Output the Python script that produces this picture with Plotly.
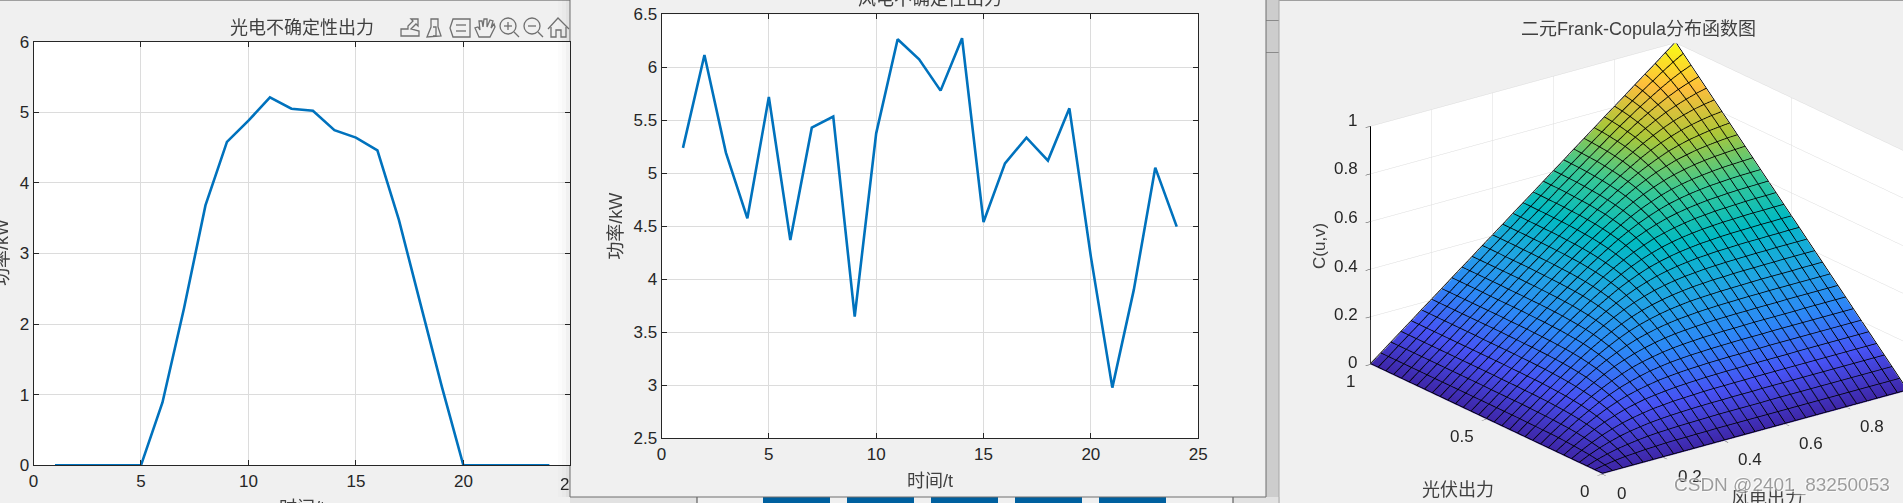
import plotly.graph_objects as go

W, H = 1985, 503  # the page only shows the first 1903 px; the right window runs off it

# left figure: PV output
t_pv = list(range(1, 25))
pv_power = [0, 0, 0, 0, 0, 0.89, 2.22, 3.68, 4.58, 4.88, 5.21, 5.05, 5.02, 4.745, 4.64, 4.46,
            3.475, 2.29, 1.11, 0, 0, 0, 0, 0]

# middle figure: wind output
t_wind = list(range(1, 25))
wind_power = [5.24, 6.116, 5.195, 4.575, 5.72, 4.37, 5.43, 5.535, 3.648, 5.377, 6.264, 6.075,
              5.78, 6.274, 4.54, 5.094, 5.336, 5.12, 5.613, 4.214, 2.978, 3.9, 5.053, 4.497]

# right figure: copula surface, grid of 31 x 31 nodes, read as symmetric (upper triangle, row by row)
grid = [i / 30 for i in range(31)]
z_upper = [
    [0.0] * 31,
    [.008, .015, .020, .023, .026, .028, .030, .031, .031, .032, .032] + [.033] * 19,
    [.027, .037, .044, .050, .055, .058, .060, .062, .063, .064, .065, .066, .066, .066, .066, .066] + [.067] * 13,
    [.051, .063, .072, .079, .085, .089, .092, .094, .096, .097, .098, .098, .099, .099, .099, .100] + [.100] * 12,
    [.078, .091, .101, .109, .116, .120, .124, .126, .128, .130, .131, .131, .132, .132] + [.133] * 13,
    [.107, .121, .132, .141, .147, .152, .156, .159, .161, .163, .164, .165, .165, .166, .166, .166, .166, .166] + [.167] * 8,
    [.138, .152, .163, .172, .180, .185, .189, .192, .194, .196, .197, .198, .198, .199, .199] + [.200] * 10,
    [.169, .183, .195, .205, .212, .218, .222, .225, .227, .229, .230, .231, .232, .232, .232] + [.233] * 9,
    [.201, .216, .228, .237, .245, .251, .255, .258, .261, .262, .264, .264, .265, .266, .266, .266, .266, .266] + [.267] * 5,
    [.233, .248, .260, .270, .278, .284, .288, .291, .294, .296, .297, .298, .298, .299, .299, .299] + [.300] * 6,
    [.266, .281, .293, .303, .311, .317, .321, .325, .327, .329, .330, .331, .332, .332] + [.333] * 7,
    [.299, .314, .326, .336, .344, .350, .355, .358, .360, .362, .363, .364, .365, .366, .366, .366, .366, .367, .367, .367],
    [.332, .347, .359, .369, .377, .383, .388, .391, .394, .395, .397, .398, .398, .399, .399, .400, .400, .400, .400],
    [.365, .380, .393, .403, .411, .417, .421, .425, .427, .429, .430, .431, .432, .432, .433, .433, .433, .433],
    [.398, .413, .426, .436, .444, .450, .455, .458, .461, .462, .464, .465, .465, .466, .466, .467, .467],
    [.431, .447, .459, .469, .477, .483, .488, .491, .494, .496, .497, .498, .499, .499, .500, .500],
    [.465, .480, .493, .503, .511, .517, .522, .525, .528, .529, .531, .532, .532, .533, .533],
    [.498, .514, .526, .536, .544, .551, .555, .559, .561, .563, .565, .566, .566, .567],
    [.532, .547, .560, .570, .578, .584, .589, .592, .595, .597, .598, .599, .600],
    [.565, .581, .594, .604, .612, .618, .623, .626, .629, .631, .632, .633],
    [.599, .615, .628, .638, .646, .652, .657, .661, .663, .665, .667],
    [.633, .649, .662, .672, .681, .687, .692, .695, .698, .700],
    [.668, .683, .697, .707, .716, .722, .727, .731, .733],
    [.702, .719, .732, .743, .751, .758, .763, .767],
    [.738, .754, .768, .779, .788, .795, .800],
    [.774, .791, .805, .817, .826, .833],
    [.812, .829, .844, .857, .867],
    [.851, .870, .886, .900],
    [.894, .915, .933],
    [.942, .967],
    [1.0],
]
z_grid = [[z_upper[min(i, j)][abs(i - j)] for j in range(31)] for i in range(31)]

parula = [[0, "#3E26A8"], [0.125, "#4752F4"], [0.25, "#2D87F7"], [0.375, "#20A5E3"], [0.5, "#02BAC3"],
          [0.625, "#37C897"], [0.75, "#ABC739"], [0.875, "#FEBE3C"], [1, "#F9FB15"]]

TEXT = "#404040"
TICK = "#262626"
FONT = "Liberation Sans, Noto Sans CJK SC"
WIN = "#F0F0F0"
BOX = 1.5675
EYE = 2.5
MESH_LIFT = 0.004  # keeps the mesh lines just in front of the surface


def fx(px):
    return px / W


def fy(py):
    return 1 - py / H


def rect(x0, y0, x1, y1, fill, line=None, layer="below"):
    return dict(type="rect", xref="paper", yref="paper", x0=fx(x0), x1=fx(x1), y0=fy(y1), y1=fy(y0),
                fillcolor=fill, line=dict(color=line or fill, width=1 if line else 0), layer=layer)


def poly(points, closed=False):
    s = "M" + " L".join(f"{fx(x):.5f},{fy(y):.5f}" for x, y in points)
    return dict(type="path", xref="paper", yref="paper", path=s + (" Z" if closed else ""),
                line=dict(color="#707070", width=1.3), layer="above")


def circle(cx, cy, r):
    return dict(type="circle", xref="paper", yref="paper", x0=fx(cx - r), x1=fx(cx + r), y0=fy(cy + r), y1=fy(cy - r),
                line=dict(color="#707070", width=1.3), layer="above")


def label(text, x, y, size=18, color=TEXT, angle=0, xanchor="center", **font):
    return dict(text=text, xref="paper", yref="paper", x=fx(x), y=fy(y), showarrow=False, textangle=angle,
                xanchor=xanchor, yanchor="middle", font=dict(family=FONT, size=size, color=color, **font))


shapes = [
    # everything behind the middle window
    rect(570, 497, 1280, 503, "#E2E2E2"),
    rect(697, 497, 1233, 503, "#F0F0F0"),
    rect(696.5, 497, 697.5, 503, "#444444"),
    rect(1232.5, 497, 1233.5, 503, "#444444"),
    rect(763, 497, 830, 503, "#00609F"),
    rect(847, 497, 914, 503, "#00609F"),
    rect(931, 497, 998, 503, "#00609F"),
    rect(1015, 497, 1082, 503, "#00609F"),
    rect(1099, 497, 1166, 503, "#00609F"),
    rect(0, 0, W, 1, "#A0A0A0"),
    # strip between the middle and right windows
    rect(1266, 0, 1279, 497, "#CDCDCD"),
    rect(1266, 20, 1279, 21, "#8A8A8A"),
    rect(1266, 52, 1279, 53, "#8A8A8A"),
    rect(1278.5, 0, 1279.5, 503, "#A8A8A8"),
    # middle window and white plot areas
    rect(570, -2, 1266, 497, WIN, "#6E6E6E"),
    rect(33.5, 41.6, 570, 465.3, "white"),
    rect(661.5, 14.3, 1198.2, 438.3, "white"),
    # shadow of the middle window on the left one
    rect(558, 0, 570, 497, "rgba(0,0,0,0.012)", layer="above"),
    rect(562, 0, 570, 497, "rgba(0,0,0,0.018)", layer="above"),
    rect(566, 0, 570, 497, "rgba(0,0,0,0.03)", layer="above"),
    # toolbar icons of the left window
    poly([(401, 36), (401, 29), (408, 29), (408, 26), (413, 21), (411, 19), (418, 19), (418, 26), (416, 24), (411, 29), (419, 31), (419, 36)], True),
    poly([(431, 19), (438, 19), (438, 27), (441, 36), (427, 37), (431, 27)], True),
    poly([(433, 27), (436, 27), (436, 36), (433, 36)]),
    poly([(453, 19), (470, 19), (470, 37), (453, 37), (450, 28)], True),
    poly([(456, 25), (466, 25)]),
    poly([(456, 31), (466, 31)]),
    poly([(479, 37), (475, 28), (478, 27), (480, 30), (479, 21), (482, 21), (483, 27), (484, 19), (487, 19), (487, 27), (490, 20), (493, 21), (491, 28), (494, 24), (495, 27), (490, 37)], True),
    circle(508, 26, 8),
    poly([(504, 26), (512, 26)]),
    poly([(508, 22), (508, 30)]),
    poly([(514, 32), (519, 37)]),
    circle(532, 26, 8),
    poly([(528, 26), (536, 26)]),
    poly([(538, 32), (543, 37)]),
    poly([(548, 29), (558, 18), (569, 29)]),
    poly([(551, 27), (551, 37), (556, 37), (556, 30), (561, 30), (561, 37), (566, 37), (566, 27)]),
]

annotations = [
    label("光电不确定性出力", 301.5, 27.7),
    label("功率/kW", 2, 253, angle=-90),
    label("时间/t", 302, 508),
    label("2", 570.5, 484, size=17, color=TICK, xanchor="right"),
    label("风电不确定性出力", 929.6, -1),
    label("功率/kW", 616, 226.7, angle=-90),
    label("时间/t", 929.6, 481),
    label("二元Frank-Copula分布函数图", 1638, 29),
    label("C(u,v)", 1319, 246, angle=-90, size=17),
    label("光伏出力", 1458, 490),
    label("风电出力", 1766.6, 499),
]

# tick labels of the 3D axes
for text, x, y in [("1", 1352, 121), ("0.8", 1345.5, 169), ("0.6", 1345.5, 217), ("0.4", 1345.5, 266),
                   ("0.2", 1345.5, 314), ("0", 1352, 362), ("1", 1350.7, 381), ("0.5", 1461.8, 436),
                   ("0", 1584.5, 491), ("0", 1621.6, 493), ("0.2", 1690, 476), ("0.4", 1749.6, 459),
                   ("0.6", 1810.6, 443), ("0.8", 1871.5, 426)]:
    annotations.append(label(text, x, y, size=17, color=TICK))

annotations.append(label("CSDN @2401_83250053", 1782, 485, size=19, color="rgba(125,125,125,0.75)",
                         shadow="1px 1px 1px white, -1px -1px 1px white"))

# black mesh of the surface, one polyline per grid row and column
mesh_x, mesh_y, mesh_z = [], [], []
for i in range(31):
    for j in range(31):
        mesh_x.append(grid[j]); mesh_y.append(grid[i]); mesh_z.append(z_grid[i][j] + MESH_LIFT)
    mesh_x.append(None); mesh_y.append(None); mesh_z.append(None)
    for j in range(31):
        mesh_x.append(grid[i]); mesh_y.append(grid[j]); mesh_z.append(z_grid[j][i] + MESH_LIFT)
    mesh_x.append(None); mesh_y.append(None); mesh_z.append(None)

fig = go.Figure()
fig.add_trace(go.Scatter(x=t_pv, y=pv_power, mode="lines", line=dict(color="#0072BD", width=2.6), xaxis="x", yaxis="y"))
fig.add_trace(go.Scatter(x=t_wind, y=wind_power, mode="lines", line=dict(color="#0072BD", width=2.6), xaxis="x2", yaxis="y2"))
fig.add_trace(go.Surface(x=grid, y=grid, z=z_grid, colorscale=parula, cmin=0, cmax=1, showscale=False,
                         lighting=dict(ambient=1, diffuse=0, specular=0, fresnel=0, roughness=1),
                         contours=dict(x=dict(highlight=False), y=dict(highlight=False), z=dict(highlight=False))))
fig.add_trace(go.Scatter3d(x=mesh_x, y=mesh_y, z=mesh_z, mode="lines", line=dict(color="black", width=1.6)))

axis2d = dict(showgrid=True, gridcolor="#DCDCDC", gridwidth=1, zeroline=False, showline=True, linecolor=TICK, linewidth=1,
              mirror="allticks", ticks="inside", ticklen=5, tickcolor=TICK, automargin=False,
              tickfont=dict(family=FONT, size=17, color=TICK))

scene_axis = dict(title="", showgrid=True, gridcolor="#DCDCDC", gridwidth=1, zeroline=False, showspikes=False,
                  showbackground=True, backgroundcolor="white", ticks="outside", ticklen=6, tickcolor="#404040",
                  showticklabels=False, range=[0, 1])

fig.update_layout(
    width=W, height=H, autosize=False, showlegend=False,
    margin=dict(l=0, r=0, t=0, b=0), paper_bgcolor=WIN, plot_bgcolor="rgba(0,0,0,0)",
    xaxis=dict(axis2d, domain=[fx(33.5), fx(570)], range=[0, 24.96], tickvals=[0, 5, 10, 15, 20], anchor="y"),
    yaxis=dict(axis2d, domain=[fy(465.3), fy(41.6)], range=[0, 6], tickvals=[0, 1, 2, 3, 4, 5, 6], anchor="x"),
    xaxis2=dict(axis2d, domain=[fx(661.5), fx(1198.2)], range=[0, 25], tickvals=[0, 5, 10, 15, 20, 25], anchor="y2"),
    yaxis2=dict(axis2d, domain=[fy(438.3), fy(14.3)], range=[2.5, 6.5], tickvals=[2.5, 3, 3.5, 4, 4.5, 5, 5.5, 6, 6.5],
                ticktext=["2.5", "3", "3.5", "4", "4.5", "5", "5.5", "6", "6.5"], anchor="x2"),
    scene=dict(
        domain=dict(x=[fx(1293), 1], y=[0, fy(14.3)]),
        bgcolor=WIN,
        xaxis=dict(scene_axis, tickvals=[0, 0.2, 0.4, 0.6, 0.8, 1]),
        yaxis=dict(scene_axis, tickvals=[0, 0.5, 1]),
        zaxis=dict(scene_axis, tickvals=[0, 0.2, 0.4, 0.6, 0.8, 1], showline=True, linecolor="black", linewidth=2),
        aspectmode="manual", aspectratio=dict(x=BOX, y=BOX, z=0.666 * BOX),
        camera=dict(projection=dict(type="orthographic"), up=dict(x=0, y=0, z=1),
                    center=dict(x=0, y=0, z=0),
                    eye=dict(x=-0.565 * EYE, y=-0.743 * EYE, z=0.360 * EYE)),
    ),
    shapes=shapes, annotations=annotations,
)

fig.write_html("out.html", config=dict(displayModeBar=False),
               post_script="document.body.style.margin='0';document.body.style.overflow='hidden';")
